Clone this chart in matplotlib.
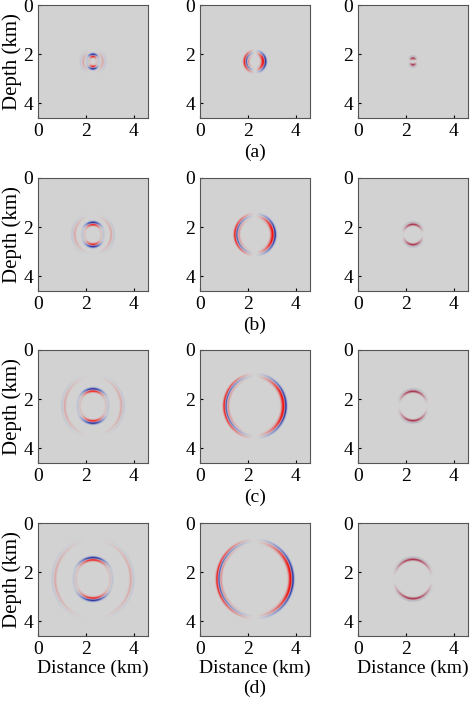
import numpy as np
import matplotlib
matplotlib.use("Agg")
import matplotlib.pyplot as plt
from matplotlib.colors import LinearSegmentedColormap

plt.rcParams["font.family"] = ["Liberation Serif", "DejaVu Serif"]

# snapshot parameters per row (a)-(d): ring radii in km
P_RADIUS = [0.25, 0.45, 0.65, 0.82]      # column 1 inner (P) ring
S_RADIUS_C1 = [0.42, 0.78, 1.2, 1.6]     # column 1 outer (S) ring
S_RADIUS_C2 = [0.40, 0.80, 1.25, 1.55]   # column 2 ring
R_RADIUS_C3 = [0.14, 0.42, 0.60, 0.80]   # column 3 ring
ROW_LABELS = ["(a)", "(b)", "(c)", "(d)"]
SRC = (2.3, 2.3)
EXTENT = 4.6

cmap = LinearSegmentedColormap.from_list(
    "bgr", ["#1a1a8c", "#6f7fc8", "#d3d3d3", "#e07070", "#ee1010"])
cmap3 = LinearSegmentedColormap.from_list(
    "gr", ["#303070", "#d3d3d3", "#a01030"])

n = 300
xs = np.linspace(0, EXTENT, n)
X, Z = np.meshgrid(xs, xs)
DX, DZ = X - SRC[0], Z - SRC[1]
R = np.hypot(DX, DZ) + 1e-9
cosv = DZ / R   # vertical direction cosine
sinh = DX / R   # horizontal direction cosine


def wavelet(r, r0, w):
    t = (r - r0) / w
    return -t * np.exp(-t * t) * 2.3


def field(col, row):
    w = 0.06
    if col == 0:
        f = wavelet(R, P_RADIUS[row], w) * cosv ** 4 * 1.0
        f += wavelet(R, P_RADIUS[row] - 0.05, w) * sinh ** 2 * 0.12
        f += 0.25 * np.exp(-((R - S_RADIUS_C1[row]) / w) ** 2) * sinh ** 2
        f -= 0.12 * np.exp(-((R - S_RADIUS_C1[row] - 0.08) / w) ** 2) * sinh ** 2
    elif col == 1:
        f = wavelet(R, S_RADIUS_C2[row], w) * sinh * np.abs(sinh) ** 0.5
        f += 0.5 * np.exp(-((R - S_RADIUS_C2[row] + 0.1) / w) ** 2) * sinh ** 2
    else:
        f = 0.9 * np.exp(-((R - R_RADIUS_C3[row]) / 0.05) ** 2) * cosv ** 2
        f -= 0.3 * np.exp(-((R - R_RADIUS_C3[row] - 0.07) / 0.04) ** 2) * cosv ** 2
    return f


fig = plt.figure(figsize=(4.74, 7.01), dpi=100)
W, H = 474, 701
lefts = [38, 200, 358]
tops = [5, 178, 350, 523]
aw, ah = 110, 113
for i in range(4):
    for j in range(3):
        ax = fig.add_axes([lefts[j] / W, 1 - (tops[i] + ah) / H, aw / W, ah / H])
        ax.imshow(field(j, i), cmap=cmap3 if j == 2 else cmap, vmin=-1, vmax=1,
                  extent=[0, EXTENT, EXTENT, 0], aspect="auto", interpolation="bilinear")
        ax.set_xticks([0, 2, 4])
        ax.set_yticks([0, 2, 4])
        ax.tick_params(labelsize=14, direction="in", length=2)
        for s in ax.spines.values():
            s.set_color("#555555")
        if j == 0:
            ax.set_ylabel("Depth (km)", fontsize=15, labelpad=1)
        if i == 3:
            ax.set_xlabel("Distance (km)", fontsize=14, labelpad=1)
    ytxt = tops[i] + ah + (52 if i == 3 else 34)
    fig.text(255 / W, 1 - ytxt / H, ROW_LABELS[i], fontsize=14, ha="center", va="center")

fig.savefig("out.png", dpi=100)
